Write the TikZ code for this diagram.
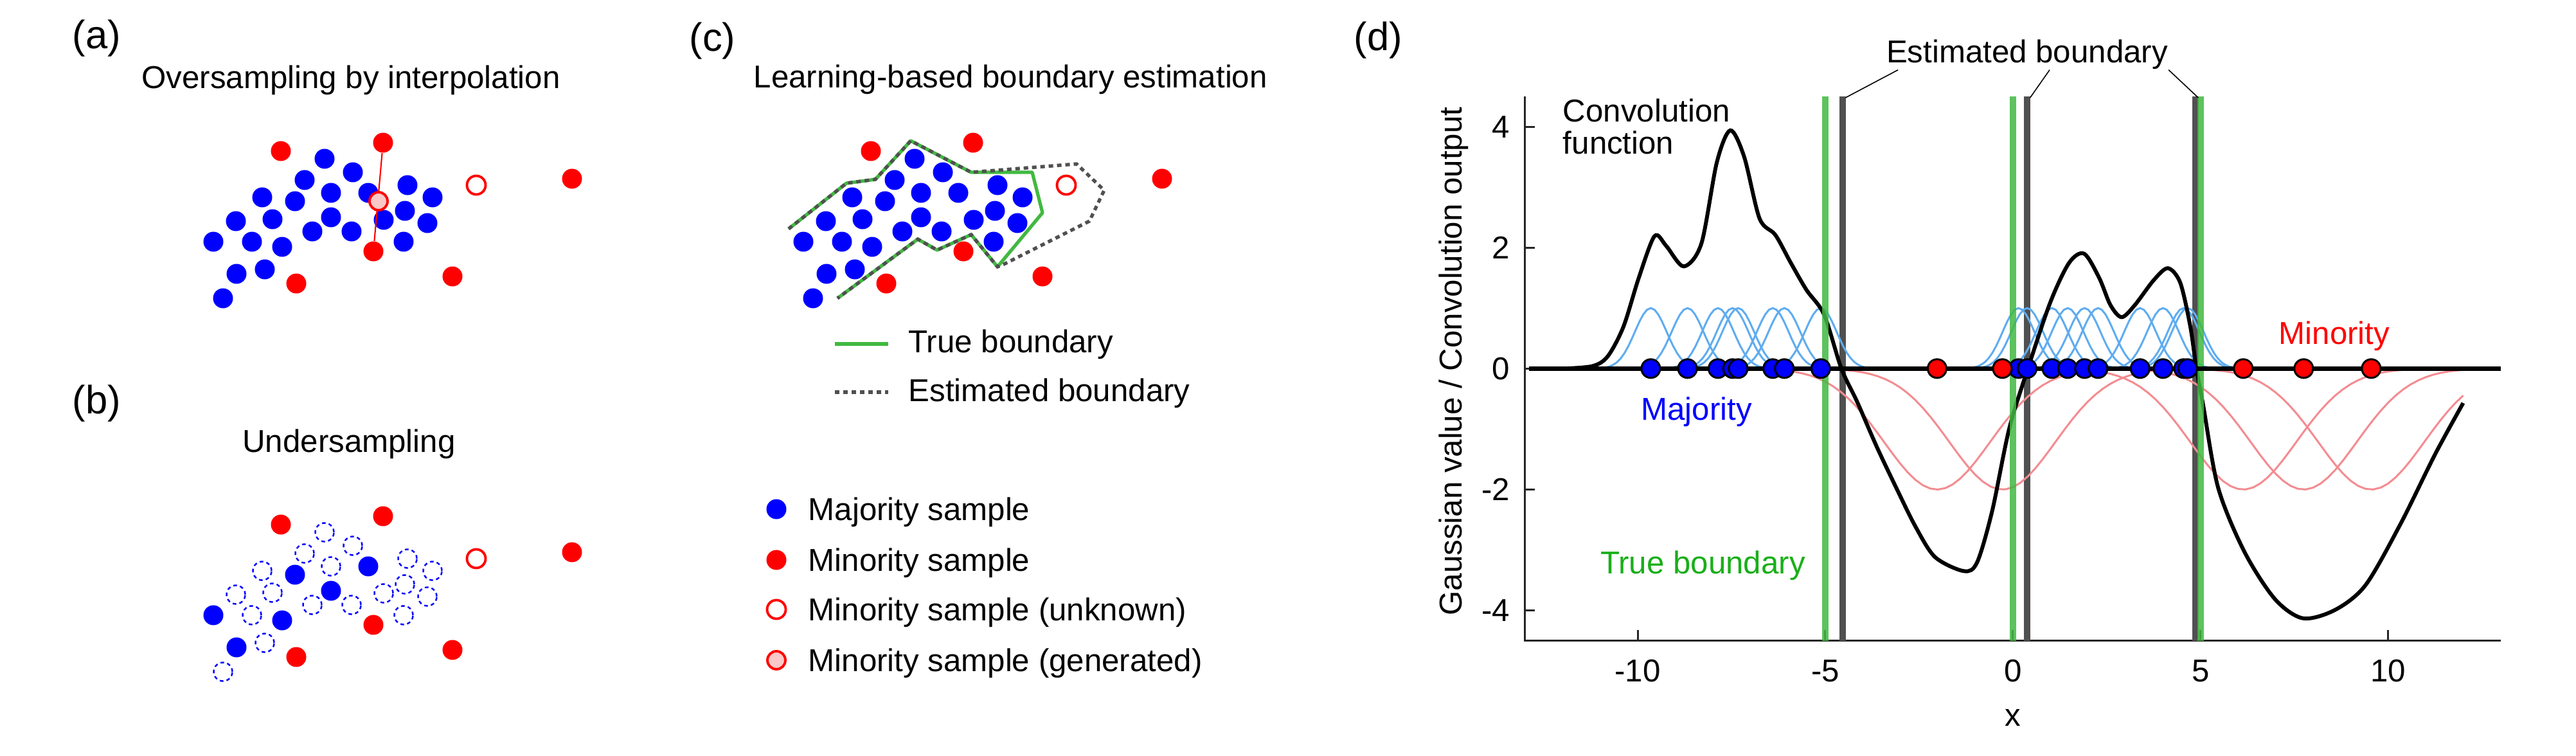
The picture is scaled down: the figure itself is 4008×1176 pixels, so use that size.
\documentclass[tikz,border=0pt]{standalone}
\usepackage{fontspec}
\setmainfont{Liberation Sans}
\usepackage{xcolor}
\usepackage{tikz}

\definecolor{majblue}{RGB}{0,0,255}
\definecolor{minred}{RGB}{255,0,0}
\definecolor{genpink}{RGB}{250,200,200}
\definecolor{gaussblue}{RGB}{95,172,240}
\definecolor{gaussred}{RGB}{243,140,145}
\definecolor{truegreen}{RGB}{65,185,65}
\definecolor{labgreen}{RGB}{25,175,25}
\definecolor{estgray}{RGB}{80,80,80}
\definecolor{axisgray}{RGB}{38,38,38}

% sample positions (a)-(c), third field = look in (b)
\def\majpts{505/247/dropdot, 549/268/dropdot, 474/280/dropdot, 515/300/dropdot, 573/300/majdot, 634/288/dropdot, 673/307/dropdot, 408/307/dropdot, 459/313/majdot, 424/341/dropdot, 367/344/dropdot, 515/338/majdot, 597/342/dropdot, 630/328/dropdot, 665/347/dropdot, 486/360/dropdot, 547/360/dropdot, 332/376/majdot, 392/376/dropdot, 439/384/majdot, 628/376/dropdot, 368/426/majdot, 412/419/dropdot, 347/464/dropdot}
\def\minpts{437/235, 596/222, 890/278, 581/391, 461/441, 704/430}

\begin{document}
\begin{tikzpicture}[
    x=0.01cm, y=-0.01cm,
    txt/.style={font=\fontsize{14}{17}\selectfont, inner sep=0pt},
    panel/.style={font=\fontsize{17.5}{21}\selectfont, inner sep=0pt, anchor=west},
    dot/.style={circle, inner sep=0pt, minimum size=0.31cm},
    majdot/.style={dot, fill=majblue},
    mindot/.style={dot, fill=minred},
    dropdot/.style={dot, draw=majblue, dashed, dash pattern=on 1.6pt off 1.4pt, line width=0.7pt, minimum size=0.29cm},
    unkdot/.style={dot, draw=minred, fill=white, line width=1.1pt, minimum size=0.29cm},
    gendot/.style={dot, draw=minred, fill=genpink, line width=1.1pt, minimum size=0.28cm},
    pdot/.style={dot, draw=black, line width=0.85pt, minimum size=0.29cm},
    interp/.style={minred, line width=0.6pt},
    trueline/.style={truegreen, line width=1.5pt, line join=round},
    estline/.style={estgray, line width=1.5pt, dash pattern=on 2pt off 1.7pt},
    axisline/.style={axisgray, line width=0.85pt},
    gaussmaj/.style={gaussblue, line width=0.85pt},
    gaussmin/.style={gaussred, line width=0.85pt},
    conv/.style={black, line width=1.7pt},
    truebound/.style={truegreen, line width=2.85pt, opacity=0.85},
    estbound/.style={estgray, line width=2.85pt},
    leader/.style={black, line width=0.45pt}
]
    \useasboundingbox (0,0) rectangle (4008,1176);

    % (a)
    \node[panel] (lab-a) at (112,60) {(a)};
    \node[txt, anchor=base] (title-a) at (546,138) {Oversampling by interpolation};
    \foreach \x/\y/\kind [count=\i] in \majpts
        \node[majdot] (a-maj-\i) at (\x,\y) {};
    \foreach \x/\y [count=\i] in \minpts
        \node[mindot] (a-min-\i) at (\x,\y) {};
    \node[unkdot] (a-unk) at (741,288) {};
    \draw[interp] (a-min-2) -- (a-min-4);
    \node[gendot] (a-gen) at (589,313) {};

    % (b)
    \node[panel] (lab-b) at (112,628) {(b)};
    \node[txt, anchor=base] (title-b) at (543,703) {Undersampling};
    \begin{scope}[shift={(0,581)}]
        \foreach \x/\y/\kind [count=\i] in \majpts
            \node[\kind] (b-maj-\i) at (\x,\y) {};
        \foreach \x/\y [count=\i] in \minpts
            \node[mindot] (b-min-\i) at (\x,\y) {};
        \node[unkdot] (b-unk) at (741,288) {};
    \end{scope}

    % (c)
    \node[panel] (lab-c) at (1072,64) {(c)};
    \node[txt, anchor=base west] (title-c) at (1172,137) {Learning-based boundary estimation};
    \begin{scope}[shift={(918,0)}]
        \foreach \x/\y/\kind [count=\i] in \majpts
            \node[majdot] (c-maj-\i) at (\x,\y) {};
        \foreach \x/\y [count=\i] in \minpts
            \node[mindot] (c-min-\i) at (\x,\y) {};
        \node[unkdot] (c-unk) at (741,288) {};
    \end{scope}
    \draw[trueline] (1227,356) -- (1317,285) -- (1362,279) -- (1417,219) -- (1511,268) -- (1606,268)
        -- (1622,331) -- (1552,415) -- (1511,365) -- (1458,389) -- (1428,372) -- (1303,464);
    \draw[estline] (1227,356) -- (1317,285) -- (1362,279) -- (1417,219) -- (1511,268) -- (1675,255)
        -- (1718,296) -- (1695,344) -- (1560,412) -- (1552,415) -- (1511,365) -- (1458,389) -- (1428,372) -- (1303,464);

    % legend
    \node[txt, anchor=base west] (leg-true) at (1413,548) {True boundary};
    \node[txt, anchor=base west] (leg-est) at (1413,624) {Estimated boundary};
    \draw[trueline] (1299,535) -- (1382,535);
    \draw[estline] (1299,610) -- (1382,610);
    \node[majdot] (leg-maj) at (1208,792) {};
    \node[mindot] (leg-min) at (1208,871) {};
    \node[unkdot] (leg-unk) at (1208,948) {};
    \node[gendot] (leg-gen) at (1208,1027) {};
    \node[txt, anchor=base west] (leg-maj-t) at (1257,809) {Majority sample};
    \node[txt, anchor=base west] (leg-min-t) at (1257,888) {Minority sample};
    \node[txt, anchor=base west] (leg-unk-t) at (1257,965) {Minority sample (unknown)};
    \node[txt, anchor=base west] (leg-gen-t) at (1257,1044) {Minority sample (generated)};

    % (d)
    \node[panel] (lab-d) at (2106,63) {(d)};
    \begin{scope}[shift={(31.3cm,-5.73cm)}, x=0.5835cm, y=0.94cm]
        % axes
        \draw[axisline] (-13,4.5) -- (-13,-4.5) -- (13,-4.5);
        \foreach \t in {-4,-2,0,2,4} {
            \draw[axisline] (-13,\t) -- (-12.74,\t);
            \node[txt, anchor=east] (ytick\t) at (-13.4,\t) {\t};
        }
        \foreach \t in {-10,-5,0,5,10} {
            \draw[axisline] (\t,-4.5) -- (\t,-4.32);
            \node[txt] (xtick\t) at (\t,-5.0) {\t};
        }
        \node[txt] (xlab) at (0,-5.77) {x};
        \node[txt, rotate=90] (ylab) at (-14.91,0.12) {Gaussian value / Convolution output};

        % estimated boundaries
        \foreach \b [count=\i] in {-4.54,0.38,4.86} {
            \draw[estbound] (\b,-4.5) -- (\b,4.5);
            \coordinate (eb\i) at (\b+0.08,4.48);
        }

        % kernels
        \foreach \c in {-9.65,-8.67,-7.86,-7.47,-7.32,-6.40,-6.09,-5.12,0.15,0.38,1.04,1.46,1.91,2.27,3.39,4.00,4.55,4.66}
            \draw[gaussmaj] plot[domain=\c-2.2:\c+2.2, samples=45] (\x, {exp(-(\x-(\c))*(\x-(\c))/0.36)});
        \foreach \c in {-2.02,-0.28,6.14,7.75,9.55}
            \draw[gaussmin] plot[domain=-12:12, samples=121] (\x, {-2*exp(-(\x-(\c))*(\x-(\c))/4)});

        % convolution output
        \draw[conv] plot[smooth, tension=0.5] coordinates {(-12,0) (-11.21,0.04) (-10.8,0.2) (-10.38,0.69)
            (-9.97,1.5) (-9.55,2.19) (-9.24,2.03) (-8.77,1.69) (-8.3,2.07) (-7.89,3.41) (-7.53,3.94)
            (-7.16,3.5) (-6.75,2.48) (-6.33,2.21) (-5.92,1.75) (-5.5,1.3) (-5.03,0.89) (-4.57,0)
            (-4.15,-0.55) (-3.63,-1.29) (-3.11,-1.97) (-2.59,-2.62) (-2.07,-3.12) (-1.3,-3.35)
            (-0.95,-3.2) (-0.55,-2.35) (-0.1,-1.0) (0.4,0) (1.0,1.1) (1.5,1.75) (1.9,1.9) (2.3,1.5)
            (2.6,1.05) (2.9,0.85) (3.25,1.05) (3.75,1.46) (4.13,1.66) (4.46,1.42) (4.73,0.69) (4.89,0)
            (5.07,-0.6) (5.47,-1.97) (6.17,-3.03) (6.98,-3.81) (7.73,-4.13) (8.59,-3.99) (9.4,-3.58)
            (10.33,-2.57) (11.25,-1.42) (12,-0.57)};

        % true boundaries
        \foreach \b in {-5,0,5}
            \draw[truebound] (\b,-4.5) -- (\b,4.5);
        \draw[black, line width=2pt] (-12.9,0) -- (13,0);

        % samples
        \foreach \c [count=\i] in {-9.65,-8.67,-7.86,-7.47,-7.32,-6.40,-6.09,-5.12,0.15,0.38,1.04,1.46,1.91,2.27,3.39,4.00,4.55,4.66}
            \node[pdot, fill=majblue] (dmaj\i) at (\c,0) {};
        \foreach \c [count=\i] in {-2.02,-0.28,6.14,7.75,9.55}
            \node[pdot, fill=minred] (dmin\i) at (\c,0) {};

        % labels
        \node[txt, anchor=north west, align=left, font=\fontsize{14}{14.2}\selectfont] (convlab) at (-12.0,4.47) {Convolution\\function};
        \node[txt, anchor=base, text=majblue] (majlab) at (-8.43,-0.85) {Majority};
        \node[txt, anchor=base west, text=labgreen] (truelab) at (-11.0,-3.39) {True boundary};
        \node[txt, anchor=base west, text=minred] (minlab) at (7.08,0.4) {Minority};
        \node[txt, anchor=base] (estlab) at (0.38,5.06) {Estimated boundary};
        \coordinate (lead1) at (-3.06,4.94);
        \coordinate (lead2) at (0.98,4.94);
        \coordinate (lead3) at (4.15,4.94);
        \draw[leader] (lead1) -- (eb1);
        \draw[leader] (lead2) -- (eb2);
        \draw[leader] (lead3) -- (eb3);
    \end{scope}
\end{tikzpicture}
\end{document}
